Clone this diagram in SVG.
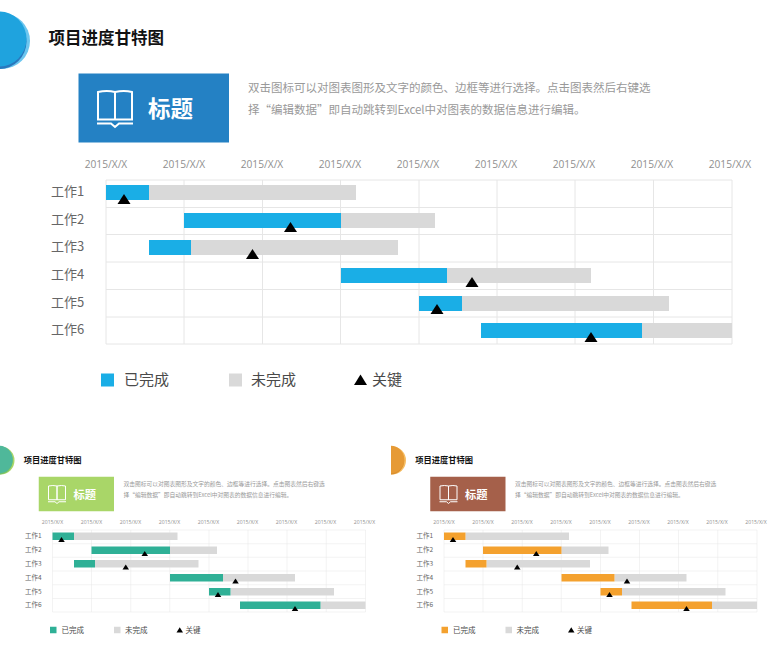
<svg xmlns="http://www.w3.org/2000/svg" width="780" height="660" viewBox="0 0 780 660">
<style>
text{font-family:"Noto Sans CJK SC","Noto Sans",sans-serif}
.title{font-size:16.5px;font-weight:700;fill:#111}
.head{font-size:22.5px;font-weight:700;fill:#fff}
.desc{font-size:11.5px;fill:#999}
.date{font-size:10.2px;fill:#8f8f8f;text-anchor:middle;font-family:"Open Sans","Noto Sans",sans-serif}
.row{font-size:13px;fill:#666}
.leg{font-size:15px;fill:#4a4a4a}
.grid{stroke:#e6e6e6;stroke-width:1;fill:none}
.todo{fill:#d9d9d9}
.key{fill:#000}
.book{fill:none;stroke:#fff;stroke-width:2}
.p1 .done{fill:#1aaee6}.p1 .box{fill:#2481c4}.p1 .c1{fill:#6cc6ef}.p1 .c2{fill:#2a78bd}.p1 .c3{fill:#1fa3de}
.p2 .done{fill:#2fb096}.p2 .box{fill:#a9d668}.p2 .c1{fill:#a9d668}.p2 .c2{fill:#6fbf6a}.p2 .c3{fill:#4fb89a}
.p3 .done{fill:#f4a12e}.p3 .box{fill:#a5604a}.p3 .c1{fill:#f6bd63}.p3 .c2{fill:#d98f30}.p3 .c3{fill:#e69a35}
</style>
<defs>
<clipPath id="clipR"><rect x="0" y="0" width="780" height="660"/></clipPath>
<path id="gridlines" class="grid" d="M106 180H732M106 207.500H732M106 234.500H732M106 262H732M106 289.500H732M106 317H732M106 344H732M106 180V344M184 180V344M262.500 180V344M340.500 180V344M419 180V344M497 180V344M575 180V344M653.500 180V344M732 180V344"/>
</defs>
<rect width="780" height="660" fill="#fff"/>

<g id="panel-blue" class="p1">
<g id="badge-blue" clip-path="url(#clipR)"><circle class="c1" cx="2" cy="41" r="28"/><circle class="c2" cx="-1" cy="41.500" r="27.500"/><circle class="c3" cx="-1" cy="39" r="27.500"/></g>
<text id="title-blue" class="title" x="48.500" y="44">项目进度甘特图</text>
<g id="head-blue"><rect class="box" x="78.500" y="73.500" width="150.500" height="69"/>
<path class="book" d="M98 92Q107 90 115 92V119.500H98ZM115 92Q124 90 132 92V119.500H115Z"/><path class="book" d="M97 123.500H111L115 127L119 123.500H133"/>
<text class="head" x="148" y="117">标题</text></g>
<g id="desc-blue"><text class="desc" x="248" y="92">双击图标可以对图表图形及文字的颜色、边框等进行选择。点击图表然后右键选</text><text class="desc" x="248" y="114">择“编辑数据”即自动跳转到Excel中对图表的数据信息进行编辑。</text></g>
<g id="axis-blue"><text class="date" x="106" y="167.500">2015/X/X</text><text class="date" x="184" y="167.500">2015/X/X</text><text class="date" x="262" y="167.500">2015/X/X</text><text class="date" x="340" y="167.500">2015/X/X</text><text class="date" x="418" y="167.500">2015/X/X</text><text class="date" x="496" y="167.500">2015/X/X</text><text class="date" x="574" y="167.500">2015/X/X</text><text class="date" x="652" y="167.500">2015/X/X</text><text class="date" x="730" y="167.500">2015/X/X</text></g>
<g id="connectors-blue"><use href="#gridlines"/></g>
<g id="task1-blue"><text class="row" x="51" y="196">工作1</text><rect class="todo" x="149" y="185" width="207" height="15"/><rect class="done" x="106" y="185" width="43" height="15"/><path class="key" d="M124 194L130.500 204H117.500Z"/></g>
<g id="task2-blue"><text class="row" x="51" y="224">工作2</text><rect class="todo" x="341" y="213" width="94" height="15"/><rect class="done" x="184" y="213" width="157" height="15"/><path class="key" d="M290.500 222L297 232H284Z"/></g>
<g id="task3-blue"><text class="row" x="51" y="251">工作3</text><rect class="todo" x="191" y="240" width="207" height="15"/><rect class="done" x="149" y="240" width="42" height="15"/><path class="key" d="M252.500 249L259 259H246Z"/></g>
<g id="task4-blue"><text class="row" x="51" y="279">工作4</text><rect class="todo" x="447" y="268" width="144" height="15"/><rect class="done" x="341" y="268" width="106" height="15"/><path class="key" d="M472 277L478.500 287H465.500Z"/></g>
<g id="task5-blue"><text class="row" x="51" y="307">工作5</text><rect class="todo" x="462" y="296" width="207" height="15"/><rect class="done" x="419" y="296" width="43" height="15"/><path class="key" d="M437 304L443.500 314H430.500Z"/></g>
<g id="task6-blue"><text class="row" x="51" y="334">工作6</text><rect class="todo" x="642" y="323" width="90" height="15"/><rect class="done" x="481" y="323" width="161" height="15"/><path class="key" d="M591 332L597.500 342H584.500Z"/></g>
<g id="legend-blue"><rect class="done" x="101" y="373.500" width="13" height="13"/><text class="leg" x="124" y="385">已完成</text><rect class="todo" x="229" y="373.500" width="13" height="13"/><text class="leg" x="251" y="385">未完成</text><path class="key" d="M360.500 374.500L367 385H354Z"/><text class="leg" x="372" y="385">关键</text></g>
</g>

<g id="panel-green" class="p2" transform="translate(-0.5 440) scale(0.5)">
<g id="badge-green"><circle class="c1" cx="2" cy="41" r="28"/><circle class="c2" cx="-1" cy="41.500" r="27.500"/><circle class="c3" cx="-1" cy="39" r="27.500"/></g>
<text id="title-green" class="title" x="48.500" y="45">项目进度甘特图</text>
<g id="head-green"><rect class="box" x="78.500" y="73.500" width="150.500" height="69"/>
<path class="book" d="M98 92Q107 90 115 92V119.500H98ZM115 92Q124 90 132 92V119.500H115Z"/><path class="book" d="M97 123.500H111L115 127L119 123.500H133"/>
<text class="head" x="148" y="117">标题</text></g>
<g id="desc-green"><text class="desc" x="248" y="92">双击图标可以对图表图形及文字的颜色、边框等进行选择。点击图表然后右键选</text><text class="desc" x="248" y="114">择“编辑数据”即自动跳转到Excel中对图表的数据信息进行编辑。</text></g>
<g id="axis-green"><text class="date" x="106" y="167.500">2015/X/X</text><text class="date" x="184" y="167.500">2015/X/X</text><text class="date" x="262" y="167.500">2015/X/X</text><text class="date" x="340" y="167.500">2015/X/X</text><text class="date" x="418" y="167.500">2015/X/X</text><text class="date" x="496" y="167.500">2015/X/X</text><text class="date" x="574" y="167.500">2015/X/X</text><text class="date" x="652" y="167.500">2015/X/X</text><text class="date" x="730" y="167.500">2015/X/X</text></g>
<g id="connectors-green"><use href="#gridlines"/></g>
<g id="task1-green"><text class="row" x="51" y="196">工作1</text><rect class="todo" x="149" y="185" width="207" height="15"/><rect class="done" x="106" y="185" width="43" height="15"/><path class="key" d="M124 194L130.500 204H117.500Z"/></g>
<g id="task2-green"><text class="row" x="51" y="224">工作2</text><rect class="todo" x="341" y="213" width="94" height="15"/><rect class="done" x="184" y="213" width="157" height="15"/><path class="key" d="M290.500 222L297 232H284Z"/></g>
<g id="task3-green"><text class="row" x="51" y="251">工作3</text><rect class="todo" x="191" y="240" width="207" height="15"/><rect class="done" x="149" y="240" width="42" height="15"/><path class="key" d="M252.500 249L259 259H246Z"/></g>
<g id="task4-green"><text class="row" x="51" y="279">工作4</text><rect class="todo" x="447" y="268" width="144" height="15"/><rect class="done" x="341" y="268" width="106" height="15"/><path class="key" d="M472 277L478.500 287H465.500Z"/></g>
<g id="task5-green"><text class="row" x="51" y="307">工作5</text><rect class="todo" x="462" y="296" width="207" height="15"/><rect class="done" x="419" y="296" width="43" height="15"/><path class="key" d="M437 304L443.500 314H430.500Z"/></g>
<g id="task6-green"><text class="row" x="51" y="334">工作6</text><rect class="todo" x="642" y="323" width="90" height="15"/><rect class="done" x="481" y="323" width="161" height="15"/><path class="key" d="M591 332L597.500 342H584.500Z"/></g>
<g id="legend-green"><rect class="done" x="101" y="373.500" width="13" height="13"/><text class="leg" x="124" y="385">已完成</text><rect class="todo" x="229" y="373.500" width="13" height="13"/><text class="leg" x="251" y="385">未完成</text><path class="key" d="M360.500 374.500L367 385H354Z"/><text class="leg" x="372" y="385">关键</text></g>
</g>

<g id="panel-orange" class="p3" transform="translate(391 440) scale(0.5)">
<g id="badge-orange" clip-path="url(#clipR)"><circle class="c1" cx="2" cy="41" r="28"/><circle class="c2" cx="-1" cy="41.500" r="27.500"/><circle class="c3" cx="-1" cy="39" r="27.500"/></g>
<text id="title-orange" class="title" x="48.500" y="45">项目进度甘特图</text>
<g id="head-orange"><rect class="box" x="78.500" y="73.500" width="150.500" height="69"/>
<path class="book" d="M98 92Q107 90 115 92V119.500H98ZM115 92Q124 90 132 92V119.500H115Z"/><path class="book" d="M97 123.500H111L115 127L119 123.500H133"/>
<text class="head" x="148" y="117">标题</text></g>
<g id="desc-orange"><text class="desc" x="248" y="92">双击图标可以对图表图形及文字的颜色、边框等进行选择。点击图表然后右键选</text><text class="desc" x="248" y="114">择“编辑数据”即自动跳转到Excel中对图表的数据信息进行编辑。</text></g>
<g id="axis-orange"><text class="date" x="106" y="167.500">2015/X/X</text><text class="date" x="184" y="167.500">2015/X/X</text><text class="date" x="262" y="167.500">2015/X/X</text><text class="date" x="340" y="167.500">2015/X/X</text><text class="date" x="418" y="167.500">2015/X/X</text><text class="date" x="496" y="167.500">2015/X/X</text><text class="date" x="574" y="167.500">2015/X/X</text><text class="date" x="652" y="167.500">2015/X/X</text><text class="date" x="730" y="167.500">2015/X/X</text></g>
<g id="connectors-orange"><use href="#gridlines"/></g>
<g id="task1-orange"><text class="row" x="51" y="196">工作1</text><rect class="todo" x="149" y="185" width="207" height="15"/><rect class="done" x="106" y="185" width="43" height="15"/><path class="key" d="M124 194L130.500 204H117.500Z"/></g>
<g id="task2-orange"><text class="row" x="51" y="224">工作2</text><rect class="todo" x="341" y="213" width="94" height="15"/><rect class="done" x="184" y="213" width="157" height="15"/><path class="key" d="M290.500 222L297 232H284Z"/></g>
<g id="task3-orange"><text class="row" x="51" y="251">工作3</text><rect class="todo" x="191" y="240" width="207" height="15"/><rect class="done" x="149" y="240" width="42" height="15"/><path class="key" d="M252.500 249L259 259H246Z"/></g>
<g id="task4-orange"><text class="row" x="51" y="279">工作4</text><rect class="todo" x="447" y="268" width="144" height="15"/><rect class="done" x="341" y="268" width="106" height="15"/><path class="key" d="M472 277L478.500 287H465.500Z"/></g>
<g id="task5-orange"><text class="row" x="51" y="307">工作5</text><rect class="todo" x="462" y="296" width="207" height="15"/><rect class="done" x="419" y="296" width="43" height="15"/><path class="key" d="M437 304L443.500 314H430.500Z"/></g>
<g id="task6-orange"><text class="row" x="51" y="334">工作6</text><rect class="todo" x="642" y="323" width="90" height="15"/><rect class="done" x="481" y="323" width="161" height="15"/><path class="key" d="M591 332L597.500 342H584.500Z"/></g>
<g id="legend-orange"><rect class="done" x="101" y="373.500" width="13" height="13"/><text class="leg" x="124" y="385">已完成</text><rect class="todo" x="229" y="373.500" width="13" height="13"/><text class="leg" x="251" y="385">未完成</text><path class="key" d="M360.500 374.500L367 385H354Z"/><text class="leg" x="372" y="385">关键</text></g>
</g>
</svg>
